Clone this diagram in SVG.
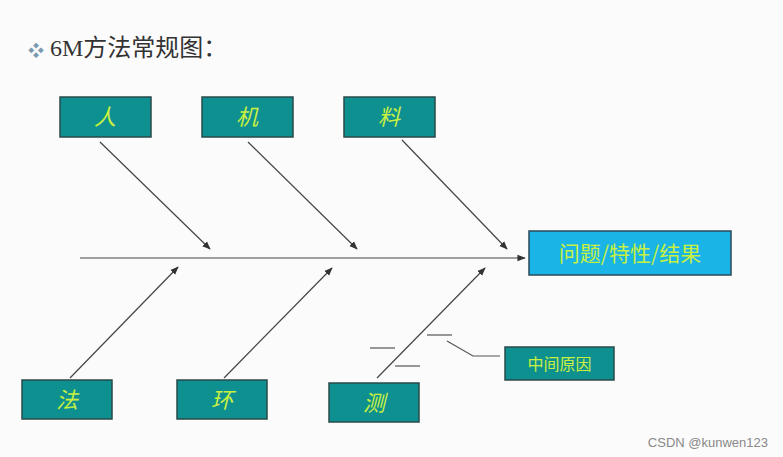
<svg xmlns="http://www.w3.org/2000/svg" width="783" height="457" viewBox="0 0 783 457">
<defs>
<marker id="ah" viewBox="0 0 10 10" refX="9" refY="5" markerWidth="7" markerHeight="7" orient="auto"><path d="M0,1 L10,5 L0,9 z" fill="#333"/></marker>
<style>
.box{fill:#0f9090;stroke:#2a4a4a;stroke-width:1.5}
.cat{font-family:"Noto Sans CJK SC",sans-serif;font-size:22px;font-style:italic;fill:#c8f040;text-anchor:middle}
.ln{stroke:#555;stroke-width:1.2;fill:none}
.ar{stroke:#444;stroke-width:1.2;fill:none;marker-end:url(#ah)}
</style>
</defs>
<rect width="783" height="457" fill="#fbfbfb"/>
<text x="28" y="56" font-family="Noto Sans CJK SC,sans-serif" font-size="16" fill="#7a9ab0">❖</text>
<text x="50" y="56" font-family="Liberation Serif,Noto Sans CJK SC,serif" font-size="24" fill="#333">6M方法常规图：</text>
<g id="connectors">
<line class="ar" x1="80" y1="258" x2="525" y2="258"/>
<line class="ar" x1="100" y1="142" x2="210" y2="249"/>
<line class="ar" x1="248" y1="142" x2="357" y2="249"/>
<line class="ar" x1="402" y1="140" x2="507" y2="249"/>
<line class="ar" x1="70" y1="378" x2="178" y2="267"/>
<line class="ar" x1="224" y1="378" x2="332" y2="268"/>
<line class="ar" x1="377" y1="378" x2="485" y2="268"/>
<line class="ln" x1="370" y1="348" x2="395" y2="348"/>
<line class="ln" x1="395" y1="366" x2="420" y2="366"/>
<line class="ln" x1="427" y1="335" x2="452" y2="335"/>
<polyline class="ln" points="447,341 473,356 500,356"/>
</g>
<g id="n-ren"><rect class="box" x="60" y="97" width="91" height="40"/><text class="cat" x="105" y="125">人</text></g>
<g id="n-ji"><rect class="box" x="202" y="97" width="91" height="40"/><text class="cat" x="247" y="125">机</text></g>
<g id="n-liao"><rect class="box" x="344" y="97" width="91" height="40"/><text class="cat" x="389" y="125">料</text></g>
<g id="n-fa"><rect class="box" x="22" y="380" width="90" height="39"/><text class="cat" x="67" y="408">法</text></g>
<g id="n-huan"><rect class="box" x="177" y="380" width="90" height="39"/><text class="cat" x="222" y="408">环</text></g>
<g id="n-ce"><rect class="box" x="329" y="383" width="90" height="39"/><text class="cat" x="374" y="411">测</text></g>
<g id="n-result"><rect x="529" y="231" width="202" height="44" fill="#1ab4e6" stroke="#2a4a5a" stroke-width="1.5"/><text x="630" y="261" font-family="Noto Sans CJK SC,sans-serif" font-size="21" fill="#c8f040" text-anchor="middle">问题/特性/结果</text></g>
<g id="n-mid"><rect class="box" x="505" y="347" width="109" height="33"/><text x="559.5" y="370" font-family="Noto Sans CJK SC,sans-serif" font-size="16" fill="#c8f040" text-anchor="middle">中间原因</text></g>
<text x="768" y="447" font-family="Liberation Sans,sans-serif" font-size="13" fill="#888" text-anchor="end">CSDN @kunwen123</text>
</svg>
